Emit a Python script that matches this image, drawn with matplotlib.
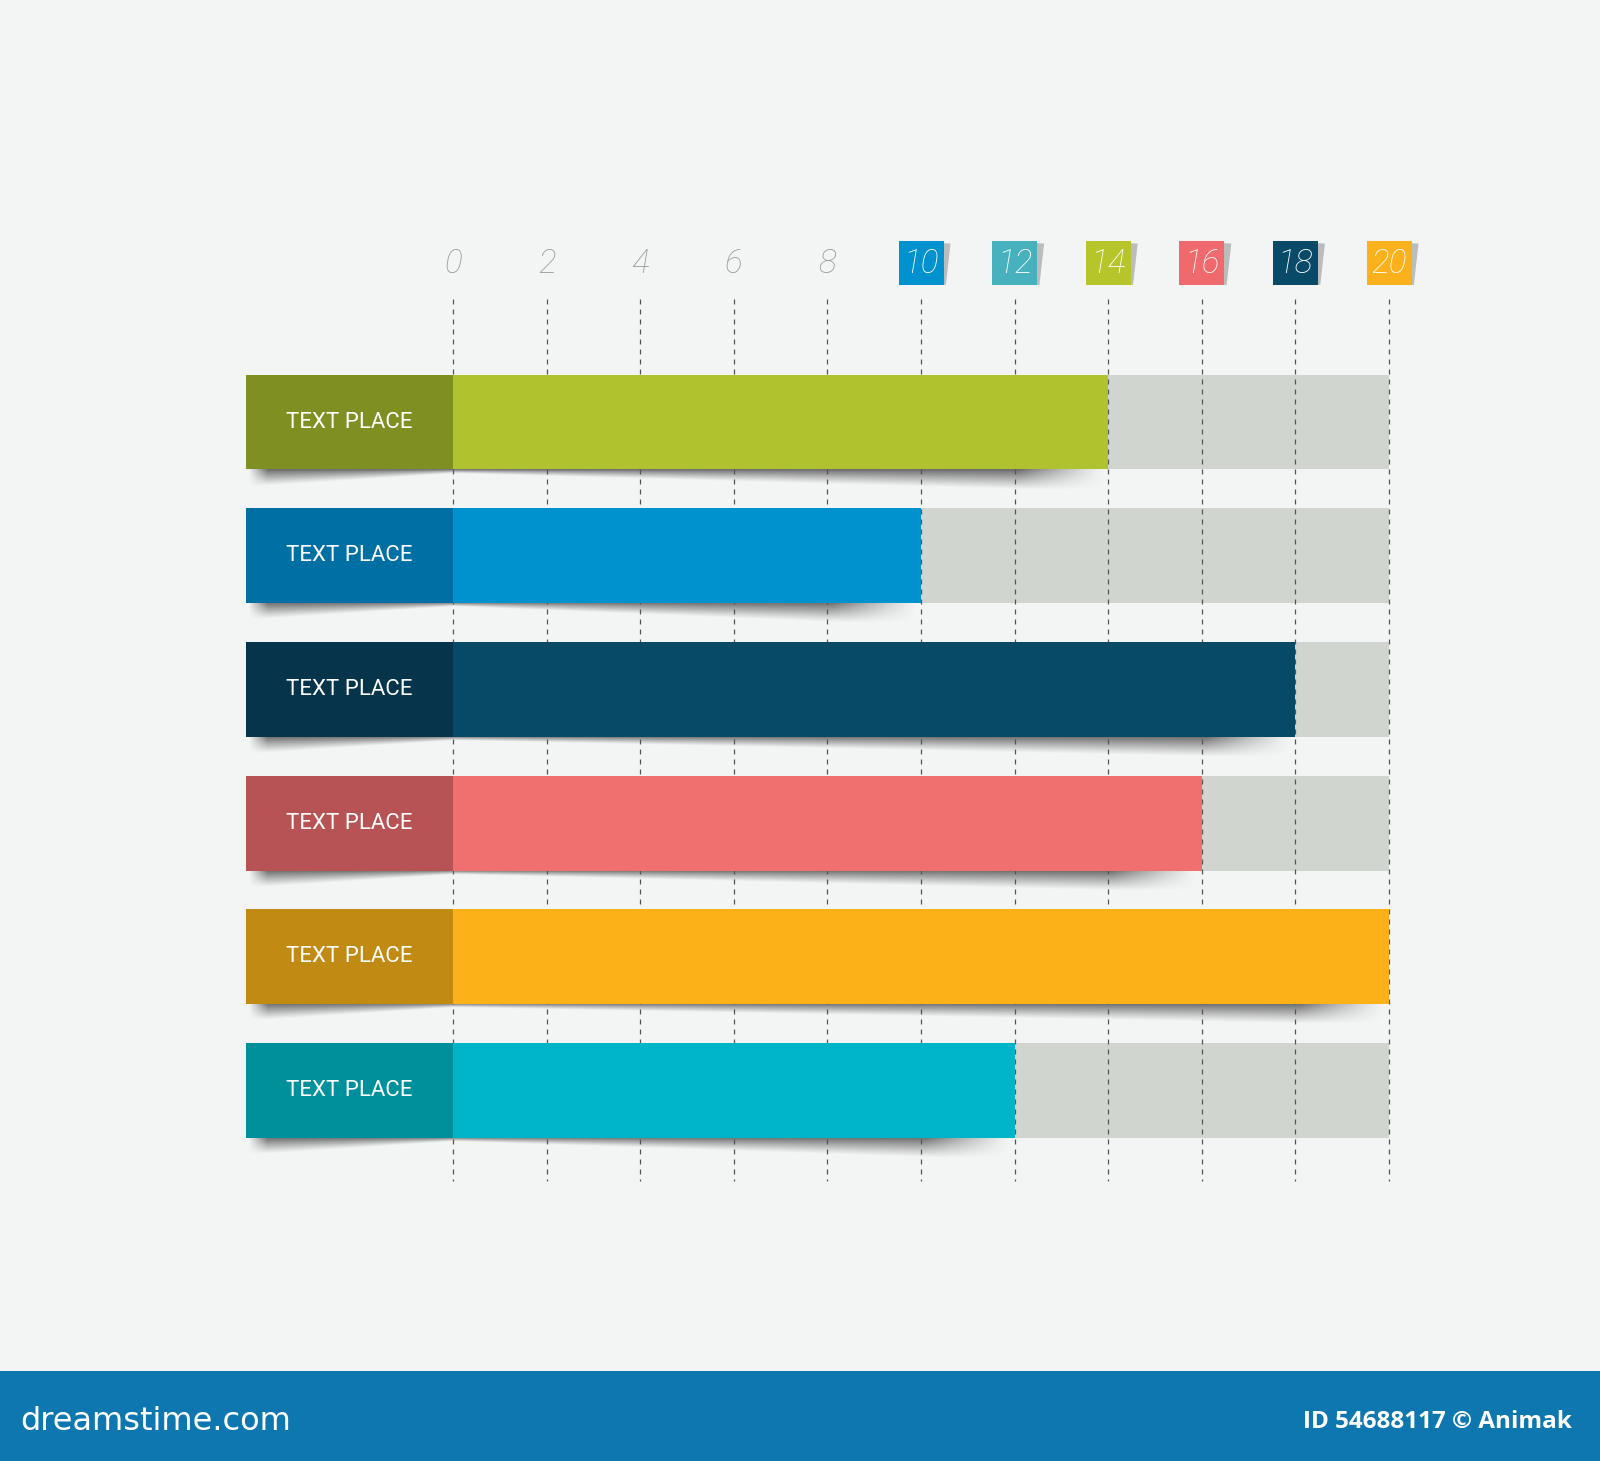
import matplotlib
matplotlib.use("Agg")
import numpy as np
from matplotlib import pyplot as plt
from matplotlib.patches import Rectangle, Polygon

# data
labels = ["TEXT PLACE"] * 6
values = [14, 10, 18, 16, 20, 12]
ticks = [0, 2, 4, 6, 8, 10, 12, 14, 16, 18, 20]
bar_colors = ["#B0C22D", "#0092CF", "#074A68", "#F07070", "#FBB117", "#00B5C7"]
label_colors = ["#7F8F22", "#006FA3", "#05344B", "#B85355", "#C18A13", "#00909C"]
badge_colors = {10: "#0092CF", 12: "#47B2BE", 14: "#B5C52A",
                16: "#F06A6D", 18: "#0A4A69", 20: "#FBB11C"}
xmax = 20

W, H = 1600, 1461
fig = plt.figure(figsize=(W / 100, H / 100), dpi=100)
fig.patch.set_facecolor("#F3F5F4")
ax = fig.add_axes([0, 0, 1, 1])
ax.set_facecolor("#F3F5F4")

# pixel layout -> data units
x0_px, x20_px = 453, 1389
ppu = (x20_px - x0_px) / xmax
row0_px, pitch = 422, 133.7
ax.set_xlim(-x0_px / ppu, (W - x0_px) / ppu)
ax.set_ylim((H - row0_px) / pitch, -row0_px / pitch)
ax.axis("off")

bh = 0.71
lab_w = (x0_px - 246) / ppu

# grid lines
for t in ticks:
    ax.plot([t, t], [-0.92, 5.68], color="#555555", lw=0.9,
            ls=(0, (4, 4)), zorder=2)

# tick labels / badges
ty = -1.19
for t in ticks:
    if t in badge_colors:
        bw = 45 / ppu
        bhh = 44 / pitch
        ax.add_patch(Polygon([(t - bw / 2 + 0.1, ty - bhh / 2), (t + bw / 2 + 0.15, ty - bhh / 2 + 0.02),
                              (t + bw / 2 + 0.05, ty + bhh / 2), (t - bw / 2 + 0.1, ty + bhh / 2)],
                             closed=True, color="#555555", alpha=0.35, lw=0, zorder=3))
        ax.add_patch(Rectangle((t - bw / 2, ty - bhh / 2), bw, bhh,
                               color=badge_colors[t], lw=0, zorder=4))
        ax.text(t, ty + 0.01, str(t), color="white", fontsize=24, family="Roboto",
                fontweight="light", style="italic", ha="center", va="center", zorder=5)
    else:
        ax.text(t, ty + 0.01, str(t), color="#9C9C9C", fontsize=24, family="Roboto",
                fontweight="light", style="italic", ha="center", va="center", zorder=5)

# bars
for i, (lab, v) in enumerate(zip(labels, values)):
    top = i - bh / 2
    bot = i + bh / 2

    # soft drop shadow under the strip
    xs = np.linspace(-lab_w, v, 600)
    maxd = 0.15
    ys = np.linspace(bot, bot + maxd, 80)
    depth = np.where(xs < 0,
                     0.03 + (0.13 - 0.03) * (-xs / lab_w),
                     0.03 + (maxd - 0.03) * np.clip(xs / max(v - 1.5, 1), 0, 1))
    hf = np.clip((xs + lab_w - 0.05) / 0.4, 0, 1) * np.clip((v - 0.1 - xs) / 1.8, 0, 1) ** 1.2
    XX, YY = np.meshgrid(xs, ys)
    rel = np.clip(1 - (YY - bot) / depth[None, :], 0, 1)
    alpha = 0.7 * rel ** 1.1 * hf[None, :]
    img = np.zeros((len(ys), len(xs), 4))
    img[..., 0:3] = 0.18
    img[..., 3] = alpha
    ax.imshow(img, extent=(-lab_w, v, bot + maxd, bot), aspect="auto",
              interpolation="bilinear", zorder=1.8)

    ax.add_patch(Rectangle((v, top), xmax - v, bh, color="#D1D5CF", lw=0, zorder=1.5))
    ax.add_patch(Rectangle((0, top), v, bh, color=bar_colors[i], lw=0, zorder=3))
    ax.add_patch(Rectangle((-lab_w, top), lab_w, bh, color=label_colors[i], lw=0, zorder=3))
    ax.text(-lab_w / 2, i, lab, color="white", fontsize=16, family="Roboto",
            ha="center", va="center", zorder=5)

ax.set_xlim(-x0_px / ppu, (W - x0_px) / ppu)
ax.set_ylim((H - row0_px) / pitch, -row0_px / pitch)

# footer band
fig.patches.append(Rectangle((0, 0), 1, (H - 1371) / H, transform=fig.transFigure,
                             color="#0E77AF", lw=0, zorder=0))
fig.text(20 / W, 0.027, "dreamstime.com", color="white", fontsize=23,
         family="DejaVu Sans", ha="left", va="center")
fig.text(1572 / W, 0.027, "ID 54688117 \u00a9 Animak", color="white", fontsize=17.5,
         family="Open Sans", fontweight="bold", ha="right", va="center")

fig.savefig("out.png", dpi=100, facecolor=fig.get_facecolor())
